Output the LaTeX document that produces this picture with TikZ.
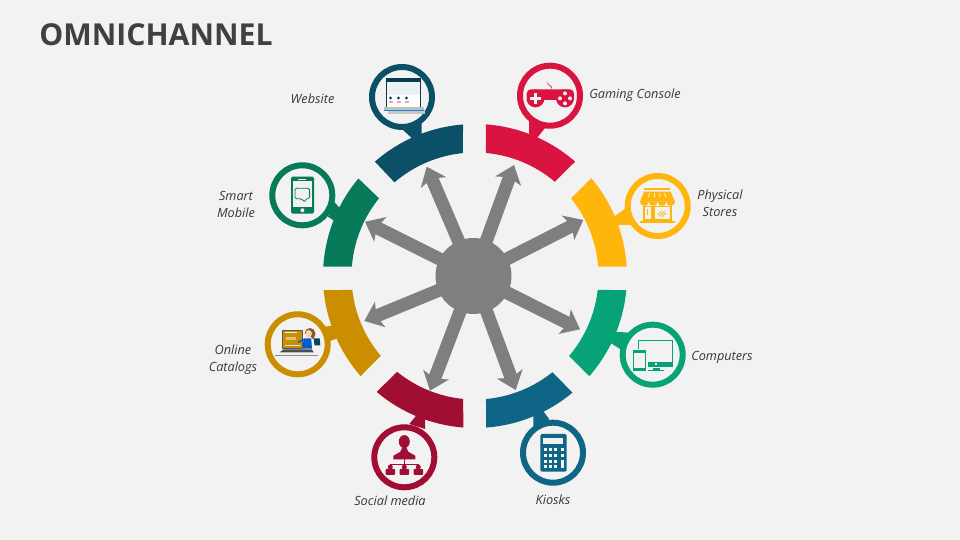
\documentclass[tikz,border=0pt]{standalone}
\usepackage{fontspec}
\setmainfont{Open Sans}
\usepackage{xcolor}
\usetikzlibrary{arrows.meta}
\definecolor{pagegray}{RGB}{242,242,242}
\definecolor{titlegray}{RGB}{64,64,64}
\definecolor{labelgray}{RGB}{56,56,56}
\definecolor{spokegray}{RGB}{127,127,127}
\definecolor{websiteblue}{RGB}{11,80,102}
\definecolor{gamingred}{RGB}{217,20,64}
\definecolor{storegold}{RGB}{255,182,12}
\definecolor{computergreen}{RGB}{7,163,118}
\definecolor{kioskblue}{RGB}{15,101,133}
\definecolor{socialred}{RGB}{161,14,51}
\definecolor{cataloggold}{RGB}{203,142,0}
\definecolor{mobilegreen}{RGB}{6,122,89}

\newcommand{\ringseg}[5]{\fill[#1] (#2:152) arc[start angle=#2,end angle=#3,radius=152] -- (#5:123.5) arc[start angle=#5,end angle=#4,radius=123.5] -- cycle;}

\begin{document}
\begin{tikzpicture}[x=1pt,y=1pt]
% Define styles
\tikzstyle{ring} = [circle, draw=#1, line width=6pt, fill=pagegray, minimum size=60pt, inner sep=0pt]
\tikzstyle{caption} = [font=\fontsize{12.7}{16.6}\selectfont\itshape, text=labelgray, align=center, inner sep=0pt]
\tikzstyle{spoke} = [spokegray, line width=13pt, -{Stealth[length=17pt,width=27pt,inset=4pt]}]

\useasboundingbox (0,0) rectangle (960,540);
\fill[pagegray] (0,0) rectangle (960,540);

\node[font=\fontsize{30.2}{36}\selectfont\bfseries, text=titlegray, inner sep=0pt] (title) at (156,505.5) {OMNICHANNEL};

% Ring segments
\begin{scope}[shift={(475,264)}]
\ringseg{websiteblue}{94.5}{131.2}{95.7}{130.7}
\ringseg{gamingred}{85.9}{48.8}{84.9}{49.7}
\ringseg{storegold}{40.1}{3.5}{39}{4.3}
\ringseg{computergreen}{-5.3}{-41.2}{-6.5}{-40.4}
\ringseg{kioskblue}{-85.8}{-50.1}{-84.9}{-51.2}
\ringseg{socialred}{-94.4}{-130.3}{-95.5}{-129.1}
\ringseg{cataloggold}{-174.7}{-138.8}{-173.5}{-139.7}
\ringseg{mobilegreen}{176.5}{140.1}{175.7}{141}
\end{scope}

% Tails
\fill[websiteblue] (421.7,418.3) -- (421.7,405) -- (411.7,402) -- (403,410) -- cycle;
\fill[gamingred] (529,420) -- (529,403) -- (537,402) -- (545,412) -- cycle;
\fill[storegold] (625.7,331.7) -- (612,322) -- (615,315) -- (633,315) -- cycle;
\fill[computergreen] (615,208.3) -- (609,198) -- (621.7,190) -- (630,207.3) -- cycle;
\fill[kioskblue] (533.3,125) -- (533.3,112) -- (549.3,120.7) -- (542.3,130) -- cycle;
\fill[socialred] (425,123.3) -- (425,111) -- (409.3,116) -- (416.7,125) -- cycle;
\fill[cataloggold] (322,213) -- (333,214.3) -- (338,202) -- (325,197) -- cycle;
\fill[mobilegreen] (334,338.3) -- (340,331.7) -- (336,318) -- (328,323.3) -- cycle;

% Place nodes
\node[ring=websiteblue] (website) at (402,443) {};
\node[ring=gamingred] (gaming) at (550,444.3) {};
\node[ring=storegold] (stores) at (657.7,334) {};
\node[ring=computergreen] (computers) at (652.7,185.3) {};
\node[ring=kioskblue] (kiosks) at (553,87.3) {};
\node[ring=socialred] (social) at (404.3,82.7) {};
\node[ring=cataloggold] (catalogs) at (297.7,195.7) {};
\node[ring=mobilegreen] (mobile) at (302.3,344.7) {};

\node[spokegray, fill=spokegray, circle, minimum size=76pt, inner sep=0pt] (hub) at (473.5,264) {};

\node[caption] (websitetext) at (312.5,441.2) {Website};
\node[caption] (gamingtext) at (635,444.5) {Gaming Console};
\node[caption] (storestext) at (720,336.5) {Physical\\Stores};
\node[caption] (computerstext) at (722,182.5) {Computers};
\node[caption] (kioskstext) at (553,40.2) {Kiosks};
\node[caption] (socialtext) at (390,39) {Social media};
\node[caption] (catalogstext) at (233,180.5) {Online\\Catalogs};
\node[caption] (mobiletext) at (236,335.5) {Smart\\Mobile};

% Arrow ends
\coordinate (websitetip) at (426.7,373.3);
\coordinate (gamingtip) at (514,375);
\coordinate (storestip) at (583.3,320);
\coordinate (computerstip) at (580,210.7);
\coordinate (kioskstip) at (515.7,150);
\coordinate (socialtip) at (430,149.3);
\coordinate (catalogstip) at (364.3,219);
\coordinate (mobiletip) at (365,318.3);

% Draw arrows
\draw[spoke] (hub.center) -- (websitetip);
\draw[spoke] (hub.center) -- (gamingtip);
\draw[spoke] (hub.center) -- (storestip);
\draw[spoke] (hub.center) -- (computerstip);
\draw[spoke] (hub.center) -- (kioskstip);
\draw[spoke] (hub.center) -- (socialtip);
\draw[spoke] (hub.center) -- (catalogstip);
\draw[spoke] (hub.center) -- (mobiletip);

% Website icon
\begin{scope}[shift={(website.center)}]
\fill[black!22] (-14,-13) rectangle (23,-17);
\fill[websiteblue!75!black] (-16.3,19) rectangle (19,-11);
\fill[white] (-15,15) rectangle (17.7,-10);
\fill[websiteblue!8] (-15,15) rectangle (17.7,2);
\fill[black!25] (-18,-10) rectangle (22,-13);
\fill[cyan!70!blue] (-18,-13) rectangle (22,-14);
\foreach \dotx in {-11.5,-3.5,4.5} {
  \fill[websiteblue] (\dotx,-1) circle (1.6);
  \fill[gamingred!40] (\dotx-2,-4.5) rectangle (\dotx+2,-6);
}
\end{scope}

% Gaming icon
\begin{scope}[shift={(gaming.center)}]
\fill[gamingred] (-14.5,-2.7) circle (9);
\fill[gamingred] (15,-2.7) circle (9);
\fill[gamingred, rounded corners=4pt] (-23.3,6.3) rectangle (24,-4.3);
\fill[pagegray] (-20,-4.2) rectangle (-9,-1.2);
\fill[pagegray] (-16,-8.2) rectangle (-13,2.8);
\foreach \padx/\pady in {15/2.3,15/-7.7,10/-2.7,20/-2.7} {
  \fill[pagegray] (\padx,\pady) circle (2);
}
\draw[gamingred, line width=0.6pt] (1.7,7) .. controls (3,10) and (-3,10) .. (-2.3,13.3);
\end{scope}

% Stores icon
\begin{scope}[shift={(stores.center)}]
\fill[storegold] (-13.3,18.3) rectangle (12.3,16);
\fill[storegold] (-13.7,14.3) -- (13,14.3) -- (17.3,4.3) -- (-17.7,4.3) -- cycle;
\foreach \stripex in {-8,-3,2,7} {
  \draw[pagegray, line width=0.9pt] (\stripex,12.8) -- (\stripex*1.15,8.5);
}
\foreach \scalx in {-13.3,-4.5,4.3,13} {
  \fill[storegold] (\scalx-4.4,4.5) arc[start angle=180,end angle=360,radius=4.4] -- cycle;
}
\fill[storegold] (-14.5,0) rectangle (14.5,-15);
\fill[pagegray] (-12.5,-1) rectangle (-7,-13);
\fill[pagegray] (-3,-1) rectangle (12.5,-13);
\fill[storegold] (-10.3,-3.5) rectangle (-9.3,-9);
\draw[storegold, line width=0.9pt] (0,-9) -- (4,-5) (2,-10) -- (7,-5) (4,-11) -- (8,-7);
\fill[storegold] (-17.7,-15) rectangle (17.3,-16.7);
\end{scope}

% Computers icon
\begin{scope}[shift={(computers.center)}]
\draw[computergreen, line width=1pt] (-14.3,6) -- (-14.3,14) -- (19.7,14) -- (19.7,-7);
\fill[computergreen] (-4.3,-7) rectangle (20.2,-12);
\fill[pagegray] (2.5,-8.8) rectangle (4.5,-10.2);
\fill[computergreen] (0,-13) rectangle (7,-15);
\fill[computergreen] (-4.3,-15) rectangle (11.5,-16.5);
\draw[computergreen, line width=1pt] (-19,4.3) rectangle (-7.2,-16);
\fill[computergreen] (-19,4.3) rectangle (-7.2,2);
\fill[computergreen] (-19,-13.5) rectangle (-7.2,-16);
\end{scope}

% Kiosks icon
\begin{scope}[shift={(kiosks.center)}]
\fill[kioskblue, rounded corners=1.5pt] (-12.7,18.7) rectangle (13.7,-19);
\fill[pagegray] (-9.7,15) rectangle (10.3,8.3);
\foreach \keyx in {-9.3,-4,1} {
  \foreach \keyy in {4.5,-1.5,-7,-12} {
    \fill[pagegray] (\keyx,\keyy) rectangle (\keyx+3,\keyy-3);
  }
}
\fill[pagegray] (7.5,4.5) rectangle (10.5,1.5);
\fill[pagegray] (7.5,-1.5) rectangle (10.5,-4.5);
\fill[pagegray] (7.5,-7) rectangle (10.5,-15);
\end{scope}

% Social icon
\begin{scope}[shift={(social.center)}]
\fill[socialred] (0,15.7) ellipse (5.5 and 6.5);
\fill[socialred] (-11,-2) -- (-11,1.5) -- (-4,5.5) -- (-2,10) -- (2,10) -- (4,5.5) -- (11,1.5) -- (11,-2) -- cycle;
\draw[socialred, line width=0.9pt] (0,-2) -- (0,-7) (-14,-11) -- (-14,-7) -- (14,-7) -- (14,-11) (0,-7) -- (0,-11);
\foreach \boxx in {-14,0,14} {
  \fill[socialred, rounded corners=1pt] (\boxx-4.8,-17.7) rectangle (\boxx+4.8,-11.5);
  \fill[socialred] (\boxx,-9.8) circle (2.5);
}
\end{scope}

% Catalogs icon
\begin{scope}[shift={(catalogs.center)}]
\fill[black!65] (-15.7,14.6) rectangle (5,-4.4);
\fill[cataloggold] (-14.7,13.6) rectangle (4,-3.4);
\fill[pagegray] (-13,12.3) rectangle (-1,11.5);
\fill[cyan!25] (-13,-0.5) rectangle (2,-1.7);
\fill[cataloggold!55] (-12,7.5) rectangle (-2,4);
\fill[black!70] (-14,-5) -- (14,-5) -- (16,-8) -- (-18,-8) -- cycle;
\draw[black!45, line width=0.6pt] (-22.4,-11) -- (20.3,-11);
\fill[blue!55!cyan!80!black] (6,6) -- (13.5,6) -- (14.3,-4.3) -- (4.5,-4.3) -- cycle;
\draw[blue!55!cyan!80!black, line width=1.6pt] (6,5) -- (0.5,2);
\fill[brown!70!black] (7,11) arc[start angle=180,end angle=0,radius=5.3] -- (17.5,9) -- (15.5,5) -- (13.5,7) -- cycle;
\fill[orange!35] (11,10.5) ellipse (3.2 and 3.8);
\fill[websiteblue!85!black] (16,6) -- (22,6) -- (22.6,-1) -- (16.8,-1) -- cycle;
\end{scope}

% Mobile icon
\begin{scope}[shift={(mobile.center)}]
\fill[mobilegreen, rounded corners=1.5pt] (-11.3,18.7) rectangle (11.7,-18.3);
\fill[pagegray] (-9,14.3) rectangle (9.3,-11.3);
\fill[pagegray] (-4,16.7) rectangle (4,16);
\fill[pagegray] (0.1,-15) circle (2);
\draw[mobilegreen, line width=0.8pt, rounded corners=1.5pt] (-7.3,7) -- (7.3,7) -- (7.3,-3.5) -- (3,-3.5) -- (3,-7) -- (-1,-3.5) -- (-7.3,-3.5) -- cycle;
\end{scope}
\end{tikzpicture}
\end{document}
